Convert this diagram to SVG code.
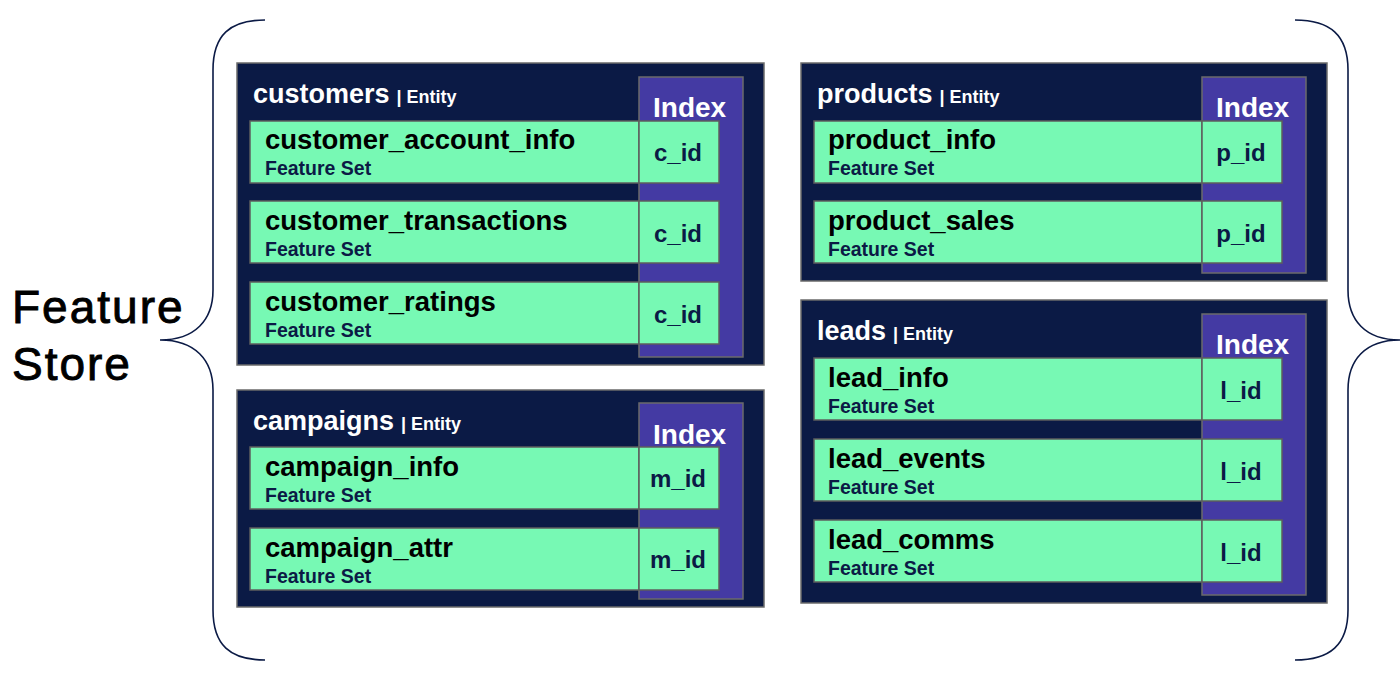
<svg xmlns="http://www.w3.org/2000/svg" width="1400" height="677" viewBox="0 0 1400 677">
<style>
.ent{fill:#0b1a45;stroke:#6b6b6b;stroke-width:1.5}
.idx{fill:#443aa3;stroke:#6b6b6b;stroke-width:1.5}
.row{fill:#77f9b4;stroke:#5e5e5e;stroke-width:1.5}
.brace{fill:none;stroke:#0b1a45;stroke-width:1.6}
text{font-family:"Liberation Sans",Arial,sans-serif;font-weight:bold}
.title{fill:#ffffff;font-size:27px}
.etag{fill:#ffffff;font-size:18px}
.itx{fill:#ffffff;font-size:28px}
.nm{fill:#000000;font-size:27.5px}
.fs{fill:#0b1a45;font-size:19.5px}
.id{fill:#0b1a45;font-size:24px;text-anchor:middle}
.big{fill:#000000;stroke:#000000;stroke-width:0.9;font-size:46px;font-weight:normal;letter-spacing:2px}
</style>
<rect width="1400" height="677" fill="#ffffff"/>
<g id="label">
<text class="big" x="12" y="323">Feature</text>
<text class="big" x="12" y="380">Store</text>
</g>
<g id="connectors">
<path class="brace" d="M265 20 C230 20 213 35 213 70 L213 290 C213 320 195 340 160 340 C195 340 213 360 213 390 L213 610 C213 645 230 660 265 660"/>
<path class="brace" d="M1295 20 C1330 20 1348 35 1348 70 L1348 290 C1348 320 1365 340 1400 340 C1365 340 1348 360 1348 390 L1348 610 C1348 645 1330 660 1295 660"/>
</g>
<g id="customers">
<rect class="ent" x="237" y="63" width="527" height="302"/>
<rect class="idx" x="639" y="77" width="104" height="280"/>
<text x="253" y="103"><tspan class="title">customers</tspan><tspan class="etag" dx="7">| Entity</tspan></text>
<text class="itx" x="653" y="117">Index</text>
<rect class="row" x="250" y="121" width="389" height="62"/><rect class="row" x="639" y="121" width="80" height="62"/>
<text class="nm" x="265" y="149">customer_account_info</text><text class="fs" x="265" y="175">Feature Set</text><text class="id" x="678" y="161">c_id</text>
<rect class="row" x="250" y="201" width="389" height="62"/><rect class="row" x="639" y="201" width="80" height="62"/>
<text class="nm" x="265" y="230">customer_transactions</text><text class="fs" x="265" y="256">Feature Set</text><text class="id" x="678" y="242">c_id</text>
<rect class="row" x="250" y="282" width="389" height="62"/><rect class="row" x="639" y="282" width="80" height="62"/>
<text class="nm" x="265" y="311">customer_ratings</text><text class="fs" x="265" y="337">Feature Set</text><text class="id" x="678" y="323">c_id</text>
</g>
<g id="campaigns">
<rect class="ent" x="237" y="390" width="527" height="217"/>
<rect class="idx" x="639" y="403" width="104" height="196"/>
<text x="253" y="430"><tspan class="title">campaigns</tspan><tspan class="etag" dx="7">| Entity</tspan></text>
<text class="itx" x="653" y="444">Index</text>
<rect class="row" x="250" y="447" width="389" height="62"/><rect class="row" x="639" y="447" width="80" height="62"/>
<text class="nm" x="265" y="476">campaign_info</text><text class="fs" x="265" y="502">Feature Set</text><text class="id" x="678" y="487">m_id</text>
<rect class="row" x="250" y="528" width="389" height="62"/><rect class="row" x="639" y="528" width="80" height="62"/>
<text class="nm" x="265" y="557">campaign_attr</text><text class="fs" x="265" y="583">Feature Set</text><text class="id" x="678" y="568">m_id</text>
</g>
<g id="products">
<rect class="ent" x="801" y="63" width="526" height="218"/>
<rect class="idx" x="1202" y="77" width="104" height="196"/>
<text x="817" y="103"><tspan class="title">products</tspan><tspan class="etag" dx="7">| Entity</tspan></text>
<text class="itx" x="1216" y="117">Index</text>
<rect class="row" x="814" y="121" width="388" height="62"/><rect class="row" x="1202" y="121" width="80" height="62"/>
<text class="nm" x="828" y="149">product_info</text><text class="fs" x="828" y="175">Feature Set</text><text class="id" x="1241" y="161">p_id</text>
<rect class="row" x="814" y="201" width="388" height="62"/><rect class="row" x="1202" y="201" width="80" height="62"/>
<text class="nm" x="828" y="230">product_sales</text><text class="fs" x="828" y="256">Feature Set</text><text class="id" x="1241" y="242">p_id</text>
</g>
<g id="leads">
<rect class="ent" x="801" y="300" width="526" height="303"/>
<rect class="idx" x="1202" y="314" width="104" height="281"/>
<text x="817" y="340"><tspan class="title">leads</tspan><tspan class="etag" dx="7">| Entity</tspan></text>
<text class="itx" x="1216" y="354">Index</text>
<rect class="row" x="814" y="358" width="388" height="62"/><rect class="row" x="1202" y="358" width="80" height="62"/>
<text class="nm" x="828" y="387">lead_info</text><text class="fs" x="828" y="413">Feature Set</text><text class="id" x="1241" y="399">l_id</text>
<rect class="row" x="814" y="439" width="388" height="62"/><rect class="row" x="1202" y="439" width="80" height="62"/>
<text class="nm" x="828" y="468">lead_events</text><text class="fs" x="828" y="494">Feature Set</text><text class="id" x="1241" y="480">l_id</text>
<rect class="row" x="814" y="520" width="388" height="62"/><rect class="row" x="1202" y="520" width="80" height="62"/>
<text class="nm" x="828" y="549">lead_comms</text><text class="fs" x="828" y="575">Feature Set</text><text class="id" x="1241" y="561">l_id</text>
</g>
</svg>
